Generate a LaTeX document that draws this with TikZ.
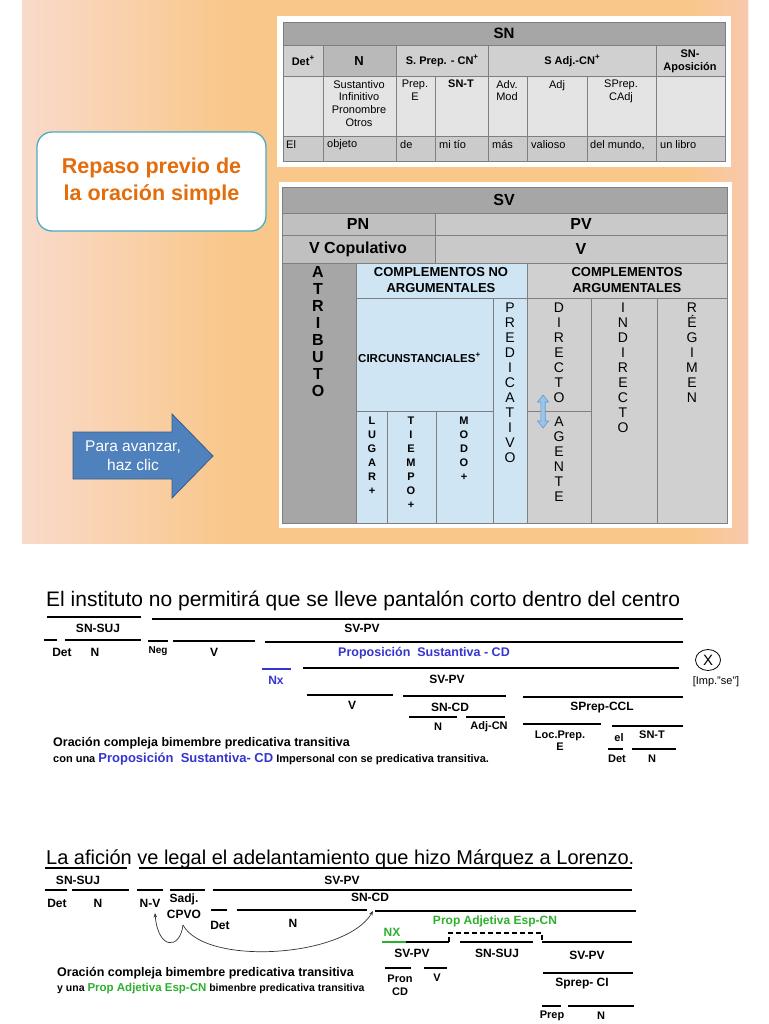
\documentclass[tikz,border=0pt]{standalone}
\usepackage{fontspec}
\setmainfont{Liberation Sans}
\usetikzlibrary{arrows.meta}
\definecolor{bgL}{HTML}{F9DACB}
\definecolor{bgM}{HTML}{F9C78A}
\definecolor{bgR}{HTML}{F8C287}
\definecolor{bgP}{HTML}{F8C8AE}
\definecolor{hdrgray}{HTML}{A6A6A6}
\definecolor{midgray}{HTML}{C0C0C0}
\definecolor{cellgray}{HTML}{D0D0D0}
\definecolor{lightcell}{HTML}{E4E4E4}
\definecolor{rowfour}{HTML}{CBCBCB}
\definecolor{ncell}{HTML}{B9B9B9}
\definecolor{bluecell}{HTML}{CFE5F4}
\definecolor{cellline}{HTML}{7F7F7F}
\definecolor{boxteal}{HTML}{4BACC6}
\definecolor{titleorange}{HTML}{E46C0A}
\definecolor{arrowblue}{HTML}{4F81BD}
\definecolor{arrowedge}{HTML}{385D8A}
\definecolor{propblue}{HTML}{3535D0}
\definecolor{propgreen}{HTML}{2DB02D}
\definecolor{dblfill}{HTML}{9DC3E6}
\definecolor{dbledge}{HTML}{5B9BD5}
\newcommand{\plussup}{\raisebox{0.45em}{\fontsize{8}{8}\selectfont\bfseries +}}
\begin{document}
\begin{tikzpicture}[x=1pt,y=-1pt,
  cl/.style={draw=cellline, line width=0.6pt},
  hb/.style={font=\bfseries\fontsize{11}{13}\selectfont, inner sep=0pt},
  tr/.style={font=\fontsize{11}{12.7}\selectfont, inner sep=0pt, align=center, anchor=north},
  rw/.style={font=\fontsize{11}{13}\selectfont, inner sep=0pt, anchor=west},
  big/.style={font=\bfseries\fontsize{16}{18}\selectfont, inner sep=0pt},
  vreg/.style={font=\fontsize{14}{15}\selectfont, inner sep=0pt, align=center, anchor=north},
  vbold/.style={font=\bfseries\fontsize{16}{17.1}\selectfont, inner sep=0pt, align=center, anchor=north},
  vsmall/.style={font=\bfseries\fontsize{11}{14}\selectfont, inner sep=0pt, align=center, anchor=north},
  ul/.style={line width=2.6pt},
  lb/.style={font=\bfseries\fontsize{12}{14}\selectfont, inner sep=0pt},
  lbs/.style={font=\bfseries\fontsize{11}{13}\selectfont, inner sep=0pt},
  ttl/.style={font=\fontsize{21}{24}\selectfont, inner sep=0pt, anchor=base west},
  carrow/.style={-{Stealth[length=4.5pt,width=3.5pt]}, line width=0.7pt, draw=black!80}
]
\useasboundingbox (0,0) rectangle (768,1024);
\fill[white] (0,0) rectangle (768,1024);
% background gradient
\begin{scope}
\clip (22,0) rectangle (748,543);
\fill[bgM] (20,-2) rectangle (750,545);
\shade[left color=bgL, right color=bgM] (20,-2) rectangle (230,545);
\shade[left color=bgM, right color=bgP] (690,-2) rectangle (750,545);
\end{scope}

% ---------- SN table ----------
\fill[white] (277,16) rectangle (731,167);
\filldraw[cl, fill=hdrgray] (283,22) rectangle (725,45);
\filldraw[cl, fill=cellgray] (283,45) rectangle (323,76);
\filldraw[cl, fill=ncell] (323,45) rectangle (396,76);
\filldraw[cl, fill=cellgray] (396,45) rectangle (488,76);
\filldraw[cl, fill=cellgray] (488,45) rectangle (656,76);
\filldraw[cl, fill=cellgray] (656,45) rectangle (725,76);
\foreach \a/\b in {283/323,323/396,396/435,435/488,488/527,527/587,587/656,656/725}{
  \filldraw[cl, fill=lightcell] (\a,76) rectangle (\b,136);
  \filldraw[cl, fill=rowfour] (\a,136) rectangle (\b,161);
}
\node[font=\bfseries\fontsize{15}{17}\selectfont, inner sep=0pt] (snh) at (504,33) {SN};
\node[hb] (sndet) at (303,61) {Det\plussup};
\node[font=\bfseries\fontsize{13}{15}\selectfont, inner sep=0pt] (snn) at (359,61) {N};
\node[hb] (snprep) at (442,61) {S. Prep. - CN\plussup};
\node[hb] (snadj) at (572,61) {S Adj.-CN\plussup};
\node[hb, align=center, font=\bfseries\fontsize{11}{13}\selectfont] (snap) at (690,61) {SN-\\Aposición};
\node[tr] (c1) at (359,80) {Sustantivo\\Infinitivo\\Pronombre\\Otros};
\node[tr] (c2) at (415,80) {Prep.\\E};
\node[tr, font=\bfseries\fontsize{11}{12.7}\selectfont] (c3) at (461,80) {SN-T};
\node[tr] (c4) at (507,80) {Adv.\\Mod};
\node[tr] (c5) at (557,80) {Adj};
\node[tr] (c6) at (621,80) {SPrep.\\CAdj};
\node[rw] (e1) at (286,145) {El};
\node[rw] (e2) at (327,145) {objeto};
\node[rw] (e3) at (400,145) {de};
\node[rw] (e4) at (439,145) {mi tío};
\node[rw] (e5) at (492,145) {más};
\node[rw] (e6) at (531,145) {valioso};
\node[rw] (e7) at (590,145) {del mundo,};
\node[rw] (e8) at (660,145) {un libro};

% ---------- SV table ----------
\fill[white] (279,182) rectangle (732,528);
\filldraw[cl, fill=hdrgray] (282,187) rectangle (727,213);
\filldraw[cl, fill=midgray] (282,213) rectangle (435,235);
\filldraw[cl, fill=midgray!85!white] (435,213) rectangle (727,235);
\filldraw[cl, fill=midgray] (282,235) rectangle (435,263);
\filldraw[cl, fill=midgray!85!white] (435,235) rectangle (727,263);
\filldraw[cl, fill=hdrgray] (282,263) rectangle (356,523);
\filldraw[cl, fill=bluecell] (356,263) rectangle (527,298);
\filldraw[cl, fill=cellgray] (527,263) rectangle (727,298);
\filldraw[cl, fill=bluecell] (356,298) rectangle (493,411);
\filldraw[cl, fill=bluecell] (493,298) rectangle (527,523);
\filldraw[cl, fill=bluecell] (356,411) rectangle (387,523);
\filldraw[cl, fill=bluecell] (387,411) rectangle (436,523);
\filldraw[cl, fill=bluecell] (436,411) rectangle (493,523);
\filldraw[cl, fill=cellgray] (527,298) rectangle (591,411);
\filldraw[cl, fill=cellgray] (527,411) rectangle (591,523);
\filldraw[cl, fill=cellgray] (591,298) rectangle (657,523);
\filldraw[cl, fill=cellgray] (657,298) rectangle (727,523);
\node[big] (svh) at (504,200) {SV};
\node[big] (pn) at (358,224) {PN};
\node[big] (pv) at (581,224) {PV};
\node[big] (vcop) at (358,249) {V Copulativo};
\node[big] (vv) at (581,249) {V};
\node[font=\bfseries\fontsize{13}{16}\selectfont, inner sep=0pt, align=center] (cna) at (441,280) {COMPLEMENTOS NO\\ARGUMENTALES};
\node[font=\bfseries\fontsize{13}{16}\selectfont, inner sep=0pt, align=center] (ca) at (627,280) {COMPLEMENTOS\\ARGUMENTALES};
\node[font=\bfseries\fontsize{11.5}{13}\selectfont, inner sep=0pt, anchor=west] (circ) at (358,358) {CIRCUNSTANCIALES\plussup};
\node[vbold] (atr) at (318,266) {A\\T\\R\\I\\B\\U\\T\\O};
\node[vreg] (pred) at (510,303) {P\\R\\E\\D\\I\\C\\A\\T\\I\\V\\O};
\node[vreg] (dir) at (559,303) {D\\I\\R\\E\\C\\T\\O};
\node[vreg] (ag) at (559,417) {A\\G\\E\\N\\T\\E};
\node[vreg] (ind) at (623,303) {I\\N\\D\\I\\R\\E\\C\\T\\O};
\node[vreg] (reg) at (692,303) {R\\É\\G\\I\\M\\E\\N};
\node[vsmall] (lug) at (372,417) {L\\U\\G\\A\\R\\+};
\node[vsmall] (tie) at (411,417) {T\\I\\E\\M\\P\\O\\+};
\node[vsmall] (mod) at (464,417) {M\\O\\D\\O\\+};
\filldraw[fill=dblfill, draw=dbledge, line width=0.6pt]
  (543,395) -- (548.5,402) -- (545.2,402) -- (545.2,421) -- (548.5,421) -- (543,428)
  -- (537.5,421) -- (540.8,421) -- (540.8,402) -- (537.5,402) -- cycle;

% ---------- left box and arrow ----------
\node[draw=boxteal, line width=1.3pt, fill=white, rounded corners=15pt,
      minimum width=229pt, minimum height=99pt, inner sep=0pt] (rbox) at (151.5,181.5) {};
\node[font=\bfseries\fontsize{21.5}{27}\selectfont, text=titleorange, align=center, inner sep=0pt] (rtext) at (rbox.center) {Repaso previo de\\la oración simple};
\filldraw[fill=arrowblue, draw=arrowedge, line width=0.8pt]
  (73,432) -- (172,432) -- (172,414) -- (213,456) -- (172,498) -- (172,479) -- (73,479) -- cycle;
\node[font=\fontsize{15.5}{19}\selectfont, text=white, align=center, inner sep=0pt] (adv) at (133,456) {Para avanzar,\\haz clic};

% ---------- sentence 1 ----------
\node[ttl] (t1) at (46,606) {El instituto no permitirá que se lleve pantalón corto dentro del centro};
\draw[ul] (47,617) -- (141,617);
\draw[ul] (152,619) -- (683,619);
\node[lb] (s1sn) at (98,628) {SN-SUJ};
\node[lb] (s1sv) at (362,628) {SV-PV};
\draw[ul] (44,640) -- (57,640);
\draw[ul] (65,640) -- (141,640);
\draw[ul] (148,641) -- (168,641);
\draw[ul] (173,641) -- (255,641);
\draw[ul] (265,642) -- (683,642);
\node[lb] (s1det) at (62,652) {Det};
\node[lb] (s1n) at (95,652) {N};
\node[font=\bfseries\fontsize{10}{12}\selectfont, inner sep=0pt] (s1neg) at (158,651) {Neg};
\node[lb] (s1v) at (214,652) {V};
\node[font=\bfseries\fontsize{12.5}{14}\selectfont, text=propblue, inner sep=0pt] (s1prop) at (424,653) {Proposición\ \ Sustantiva - CD};
\draw[ul, draw=propblue] (262,669) -- (291,669);
\draw[ul] (303,668) -- (679,668);
\node[lb, text=propblue] (s1nx) at (276,680) {Nx};
\node[lb] (s1sv2) at (447,679) {SV-PV};
\draw[thick] (708,660) ellipse [x radius=12.5pt, y radius=10.5pt];
\node[font=\fontsize{15}{16}\selectfont, inner sep=0pt] (s1x) at (708,660) {X};
\node[font=\fontsize{11}{13}\selectfont, inner sep=0pt] (s1imp) at (716,682) {[Imp."se"]};
\draw[ul] (307,695) -- (393,695);
\draw[ul] (403,696) -- (506,696);
\draw[ul] (523,697) -- (683,697);
\node[lb] (s1v2) at (352,705) {V};
\node[lb] (s1cd) at (450,707) {SN-CD};
\node[lb] (s1ccl) at (602,708) {SPrep-CCL};
\draw[ul] (409,717) -- (457,717);
\draw[ul] (466,717) -- (505,717);
\node[lbs] (s1n2) at (438,727) {N};
\node[lbs] (s1adj) at (489,727) {Adj-CN};
\draw[ul] (523,724) -- (601,724);
\draw[ul] (612,726) -- (683,726);
\node[lbs, align=center, font=\bfseries\fontsize{11}{12}\selectfont] (s1loc) at (560,741) {Loc.Prep.\\E};
\node[lbs] (s1snt) at (652,735) {SN-T};
\node[lbs] (s1el) at (619,738) {el};
\draw[ul] (608,749) -- (623,749);
\draw[ul] (632,749) -- (676,749);
\node[lbs] (s1det2) at (617,759) {Det};
\node[lbs] (s1n3) at (652,759) {N};
\node[font=\bfseries\fontsize{12.5}{14}\selectfont, inner sep=0pt, anchor=base west] (f1a) at (53,746) {Oración compleja bimembre predicativa transitiva};
\node[inner sep=0pt, anchor=base west, font=\bfseries] (f1b) at (53,762)
  {{\fontsize{11}{13}\selectfont con una }{\color{propblue}\fontsize{13}{15}\selectfont Proposición\ \ Sustantiva- CD}{\fontsize{11}{13}\selectfont\ Impersonal con se predicativa transitiva.}};

% ---------- sentence 2 ----------
\node[ttl, font=\fontsize{20}{23}\selectfont] (t2) at (46,864) {La afición ve legal el adelantamiento que hizo Márquez a Lorenzo.};
\draw[ul] (45,868) -- (127,868);
\draw[ul] (139,868) -- (632,868);
\node[lb] (s2sn) at (78,880) {SN-SUJ};
\node[lb] (s2sv) at (342,880) {SV-PV};
\draw[ul] (45,890) -- (67,890);
\draw[ul] (72,890) -- (129,890);
\draw[ul] (137,890) -- (163,890);
\draw[ul] (170,890) -- (205,890);
\draw[ul] (213,890) -- (632,890);
\node[lb] (s2det) at (57,903) {Det};
\node[lb] (s2n) at (98,903) {N};
\node[lb] (s2nv) at (150,903) {N-V};
\node[lb, align=center, font=\bfseries\fontsize{12}{16}\selectfont] (s2sadj) at (184,906) {Sadj.\\CPVO};
\node[lb] (s2cd) at (370,897) {SN-CD};
\draw[ul] (211,910) -- (227,910);
\draw[ul] (237,910) -- (367,910);
\draw[ul] (375,911) -- (636,911);
\node[lb] (s2det2) at (220,925) {Det};
\node[lb] (s2n2) at (293,923) {N};
\coordinate (sadjfoot) at (183,925);
\coordinate (nvfoot) at (155,913);
\coordinate (cdfoot) at (373,911);
\draw[carrow] (sadjfoot) .. controls (180,950) and (158,950) .. (nvfoot);
\draw[carrow] (sadjfoot) .. controls (205,966) and (345,958) .. (cdfoot);
\node[lb, text=propgreen] (s2prop) at (495,921) {Prop Adjetiva Esp-CN};
\node[lb, text=propgreen] (s2nx) at (392,932) {NX};
\draw[ul, draw=propgreen] (382,942) -- (406,942);
\draw[ul] (406,942) -- (449,942);
\draw[line width=2pt, dash pattern=on 5pt off 3pt] (449,942) -- (449,933) -- (542,933) -- (542,942);
\draw[ul] (542,942) -- (632,942);
\draw[ul] (460,942) -- (533,942);
\node[lb] (s2sv2) at (412,953) {SV-PV};
\node[lb] (s2snsuj) at (497,953) {SN-SUJ};
\node[lb] (s2sv3) at (587,955) {SV-PV};
\draw[ul] (385,968) -- (411,968);
\draw[ul] (424,968) -- (447,968);
\node[lbs, align=center, font=\bfseries\fontsize{11}{13}\selectfont] (s2pron) at (400,985) {Pron\\CD};
\node[lbs] (s2v) at (437,978) {V};
\draw[ul] (543,973) -- (633,973);
\node[lb] (s2ci) at (582,984) {Sprep- CI};
\draw[ul] (542,1006) -- (561,1006);
\draw[ul] (568,1006) -- (634,1006);
\node[lbs] (s2prep) at (552,1016) {Prep};
\node[lbs] (s2n3) at (601,1016) {N};
\node[font=\bfseries\fontsize{12.5}{14}\selectfont, inner sep=0pt, anchor=base west] (f2a) at (57,976) {Oración compleja bimembre predicativa transitiva};
\node[inner sep=0pt, anchor=base west, font=\bfseries] (f2b) at (57,991)
  {{\fontsize{10.5}{12}\selectfont y una }{\color{propgreen}\fontsize{11.5}{13}\selectfont Prop Adjetiva Esp-CN}{\fontsize{10.5}{12}\selectfont\ bimenbre predicativa transitiva}};
\end{tikzpicture}
\end{document}
